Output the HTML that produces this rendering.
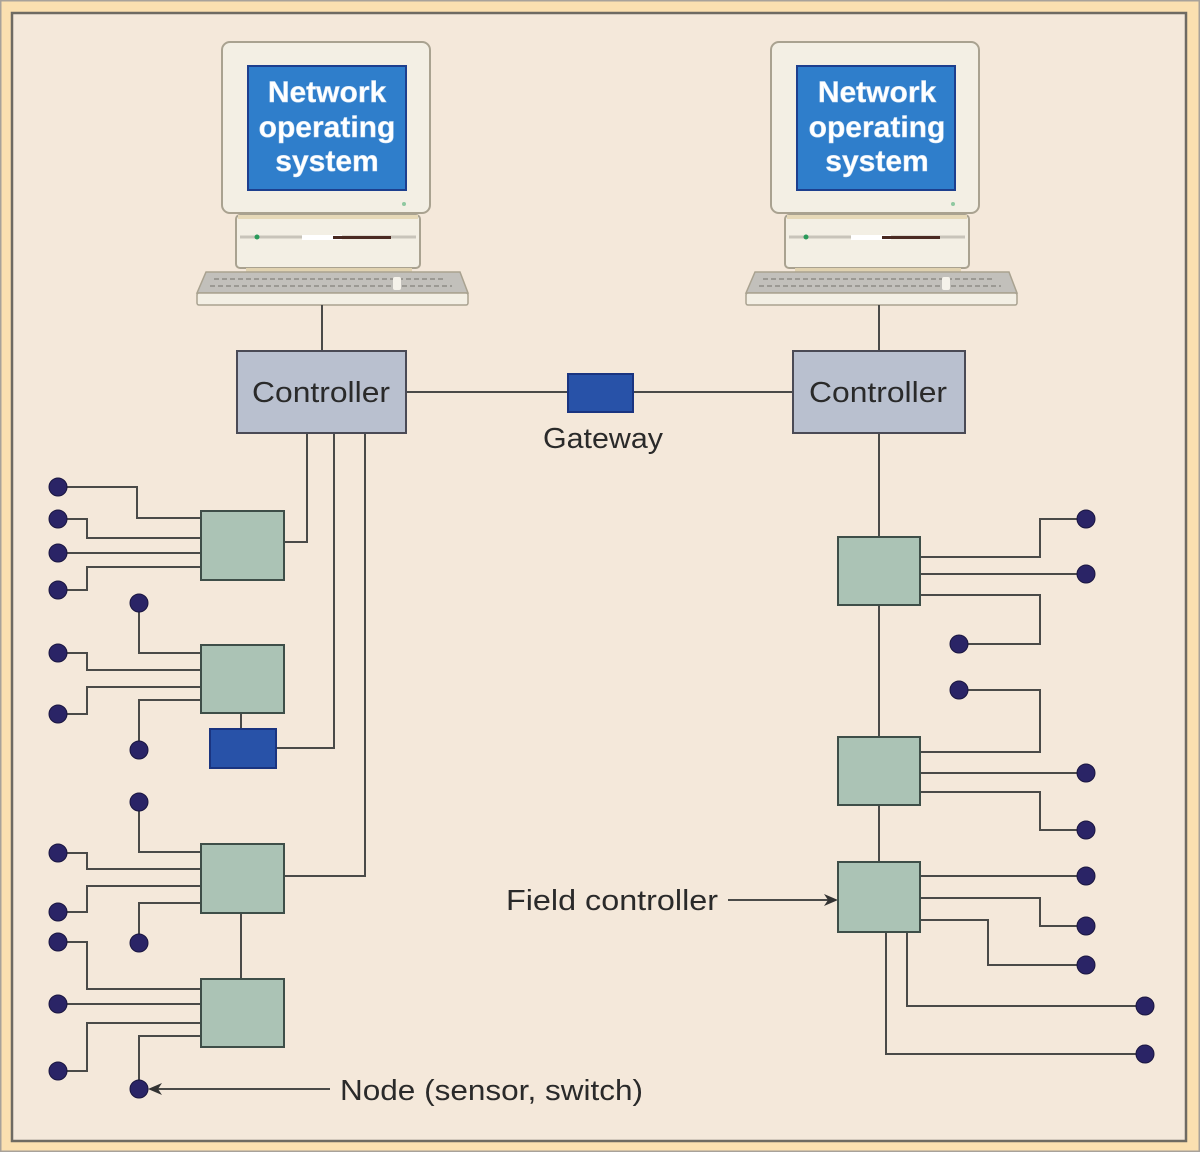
<!DOCTYPE html>
<html><head><meta charset="utf-8"><style>
html,body{margin:0;padding:0;background:#f4e8da;}
svg{display:block;}
text{font-family:"Liberation Sans",sans-serif;}
</style></head><body>
<svg width="1200" height="1152" viewBox="0 0 1200 1152" xmlns="http://www.w3.org/2000/svg">
<rect x="0" y="0" width="1200" height="1152" fill="#fbe0b0"/>
<rect x="0.5" y="0.5" width="1199" height="1151" fill="none" stroke="#a8a29a" stroke-width="2"/>
<rect x="12" y="13" width="1174" height="1128" fill="#f4e8da" stroke="#6e6a62" stroke-width="2.5"/>

<defs>
<g id="pc">
  <rect x="222" y="42" width="208" height="171" rx="8" fill="#f3efe4" stroke="#a9a290" stroke-width="2"/>
  <rect x="248" y="66" width="158" height="124" fill="#2f7ecb" stroke="#1d3f8e" stroke-width="2"/>
  <circle cx="404" cy="204" r="2" fill="#8fc8a0"/>
  <rect x="236" y="215" width="184" height="53" rx="4" fill="#f3efe4" stroke="#a9a290" stroke-width="2"/>
  <rect x="238" y="215" width="180" height="4" fill="#e6d9b8"/>
  <line x1="240" y1="237" x2="416" y2="237" stroke="#c8c4ba" stroke-width="3"/>
  <circle cx="257" cy="237" r="2.5" fill="#2a9a5a"/>
  <rect x="302" y="235" width="40" height="5" fill="#fff"/>
  <rect x="333" y="236" width="58" height="3" fill="#4a2a22"/>
  <rect x="246" y="268" width="166" height="4" fill="#e0d2b0"/>
  <path d="M206 272 L460 272 L468 293 L197 293 Z" fill="#c2c0bb" stroke="#a9a290" stroke-width="1.5"/>
  <g stroke="#8e8c86" stroke-width="1.5" stroke-dasharray="5 3">
    <line x1="214" y1="279" x2="445" y2="279"/>
    <line x1="210" y1="286" x2="452" y2="286"/>
  </g>
  <rect x="393" y="277" width="8" height="13" rx="2" fill="#f5f2ea"/>
  <rect x="197" y="293" width="271" height="12" rx="2" fill="#f3efe4" stroke="#a9a290" stroke-width="1.5"/>
</g>
</defs>
<use href="#pc"/>
<use href="#pc" transform="translate(549,0)"/>
<g fill="#fff" font-size="30" text-anchor="middle" font-weight="bold" stroke="#cfe2f5" stroke-width="0.5">
  <text x="327" y="102">Network</text>
  <text x="327" y="137">operating</text>
  <text x="327" y="171">system</text>
  <text x="877" y="102">Network</text>
  <text x="877" y="137">operating</text>
  <text x="877" y="171">system</text>
</g>

<g stroke="#4a4a48" stroke-width="2" fill="none">
  <line x1="322" y1="305" x2="322" y2="351"/>
  <line x1="879" y1="305" x2="879" y2="351"/>
  <line x1="406" y1="392" x2="793" y2="392"/>
  <polyline points="307,433 307,542 284,542"/>
  <polyline points="334,433 334,748 276,748"/>
  <polyline points="365,433 365,876 284,876"/>
  <line x1="241" y1="713" x2="241" y2="729"/>
  <line x1="241" y1="913" x2="241" y2="979"/>
  <polyline points="58,487 137,487 137,518 201,518"/>
  <polyline points="58,519 87,519 87,538 201,538"/>
  <polyline points="58,553 201,553"/>
  <polyline points="58,590 87,590 87,567 201,567"/>
  <polyline points="139,603 139,653 201,653"/>
  <polyline points="58,653 87,653 87,670 201,670"/>
  <polyline points="58,714 87,714 87,687 201,687"/>
  <polyline points="139,750 139,700 201,700"/>
  <polyline points="139,802 139,852 201,852"/>
  <polyline points="58,853 87,853 87,869 201,869"/>
  <polyline points="58,912 87,912 87,886 201,886"/>
  <polyline points="139,943 139,903 201,903"/>
  <polyline points="58,942 87,942 87,989 201,989"/>
  <polyline points="58,1004 201,1004"/>
  <polyline points="58,1071 87,1071 87,1023 201,1023"/>
  <polyline points="139,1089 139,1036 201,1036"/>
  <line x1="879" y1="433" x2="879" y2="862"/>
  <polyline points="920,557 1040,557 1040,519 1086,519"/>
  <polyline points="920,574 1086,574"/>
  <polyline points="920,595 1040,595 1040,644 959,644"/>
  <polyline points="959,690 1040,690 1040,752 920,752"/>
  <polyline points="920,773 1086,773"/>
  <polyline points="920,792 1040,792 1040,830 1086,830"/>
  <polyline points="920,876 1086,876"/>
  <polyline points="920,898 1040,898 1040,926 1086,926"/>
  <polyline points="920,920 988,920 988,965 1086,965"/>
  <polyline points="907,932 907,1006 1145,1006"/>
  <polyline points="886,932 886,1054 1145,1054"/>
  <line x1="330" y1="1089" x2="152" y2="1089"/>
  <line x1="728" y1="900" x2="832" y2="900"/>
</g>
<path d="M148 1089 L162 1083 L158 1089 L162 1095 Z" fill="#333"/>
<path d="M838 900 L824 894 L828 900 L824 906 Z" fill="#333"/>

<g fill="#b9c0cf" stroke="#4a4a55" stroke-width="2">
  <rect x="237" y="351" width="169" height="82"/>
  <rect x="793" y="351" width="172" height="82"/>
</g>
<g fill="#2a2a2a" font-size="29">
  <text x="252" y="402" textLength="138" lengthAdjust="spacingAndGlyphs">Controller</text>
  <text x="809" y="402" textLength="138" lengthAdjust="spacingAndGlyphs">Controller</text>
</g>
<rect x="568" y="374" width="65" height="38" fill="#2852a8" stroke="#1a3480" stroke-width="2"/>
<rect x="210" y="729" width="66" height="39" fill="#2852a8" stroke="#1a3480" stroke-width="2"/>

<g fill="#abc3b5" stroke="#3e4e48" stroke-width="2">
  <rect x="201" y="511" width="83" height="69"/>
  <rect x="201" y="645" width="83" height="68"/>
  <rect x="201" y="844" width="83" height="69"/>
  <rect x="201" y="979" width="83" height="68"/>
  <rect x="838" y="537" width="82" height="68"/>
  <rect x="838" y="737" width="82" height="68"/>
  <rect x="838" y="862" width="82" height="70"/>
</g>

<g fill="#2a2466" stroke="#1a1640" stroke-width="1">
  <circle cx="58" cy="487" r="9"/><circle cx="58" cy="519" r="9"/><circle cx="58" cy="553" r="9"/><circle cx="58" cy="590" r="9"/>
  <circle cx="139" cy="603" r="9"/><circle cx="58" cy="653" r="9"/><circle cx="58" cy="714" r="9"/><circle cx="139" cy="750" r="9"/>
  <circle cx="139" cy="802" r="9"/><circle cx="58" cy="853" r="9"/><circle cx="58" cy="912" r="9"/><circle cx="139" cy="943" r="9"/>
  <circle cx="58" cy="942" r="9"/><circle cx="58" cy="1004" r="9"/><circle cx="58" cy="1071" r="9"/><circle cx="139" cy="1089" r="9"/>
  <circle cx="1086" cy="519" r="9"/><circle cx="1086" cy="574" r="9"/><circle cx="959" cy="644" r="9"/><circle cx="959" cy="690" r="9"/>
  <circle cx="1086" cy="773" r="9"/><circle cx="1086" cy="830" r="9"/><circle cx="1086" cy="876" r="9"/><circle cx="1086" cy="926" r="9"/>
  <circle cx="1086" cy="965" r="9"/><circle cx="1145" cy="1006" r="9"/><circle cx="1145" cy="1054" r="9"/>
</g>

<g fill="#2a2a2a" font-size="29">
  <text x="543" y="448" textLength="120" lengthAdjust="spacingAndGlyphs">Gateway</text>
  <text x="506" y="910" textLength="212" lengthAdjust="spacingAndGlyphs">Field controller</text>
  <text x="340" y="1100" textLength="303" lengthAdjust="spacingAndGlyphs">Node (sensor, switch)</text>
</g>
</svg>
</body></html>
